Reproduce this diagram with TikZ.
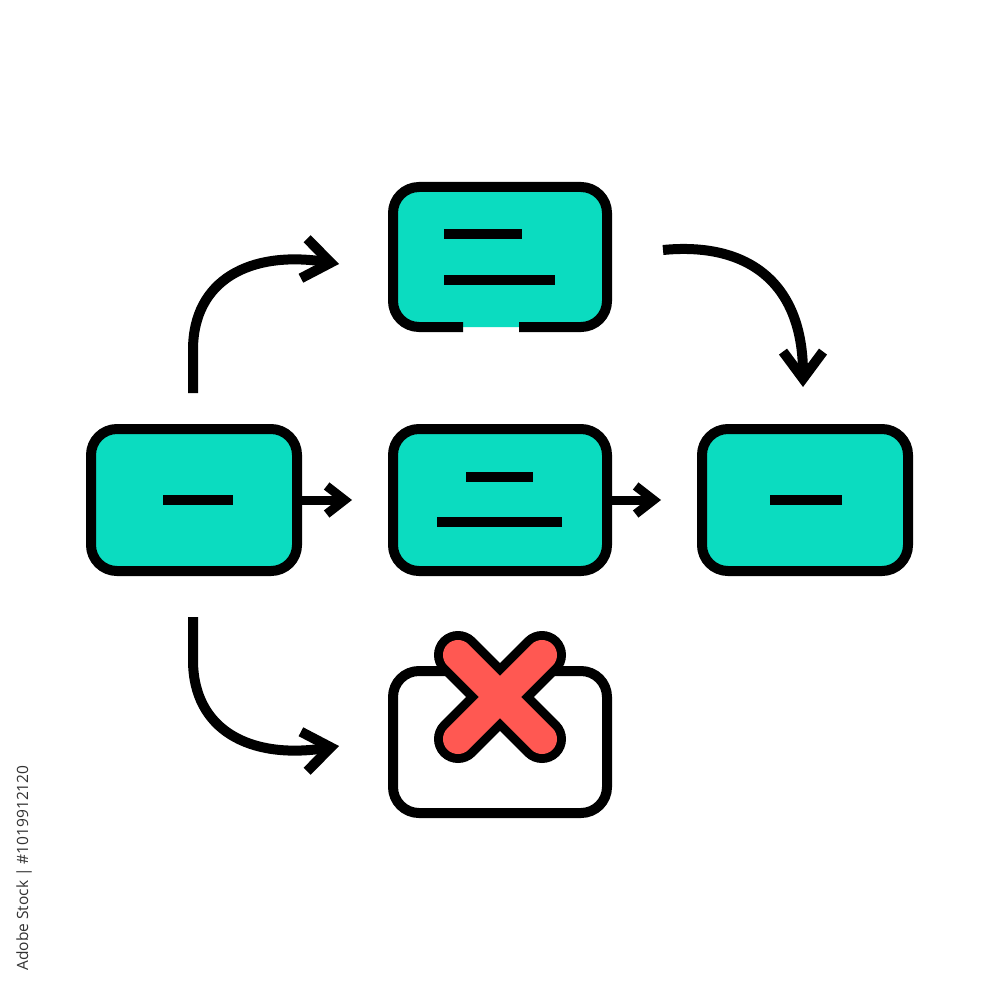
\documentclass[tikz,border=0pt]{standalone}
\usepackage{fontspec}
\newfontfamily\creditfont{Open Sans}
\usetikzlibrary{arrows.meta}
\definecolor{tealfill}{RGB}{11,220,192}
\definecolor{crossred}{RGB}{255,88,82}
\definecolor{creditgray}{RGB}{50,50,50}
\tikzset{
  box/.style={rectangle, rounded corners=26pt, inner sep=0pt, line width=10pt, minimum height=142pt},
  tealbox/.style={box, draw=black, fill=tealfill},
  bar/.style={line width=9.5pt},
  carrow/.style={line width=10pt, -{Straight Barb[length=27pt,width=40pt]}},
  harrow/.style={line width=9pt, -{Straight Barb[length=18pt,width=28pt]}, shorten >=36pt},
}
\begin{document}
\begin{tikzpicture}[x=1pt, y=-1pt]
\fill[white] (0,0) rectangle (1000,1000);
\useasboundingbox (0,0) rectangle (1000,1000);

% boxes
\node[box, fill=tealfill, minimum width=214pt, minimum height=140pt] (top) at (500,257) {};
\draw[line width=10pt, rounded corners=26pt] (463,327) -| (393,187) -| (607,327) -- (519,327);
\node[tealbox, minimum width=206pt] (left) at (194,500) {};
\node[tealbox, minimum width=214pt] (mid) at (500,500) {};
\node[tealbox, minimum width=206pt] (right) at (805,500) {};
\node[box, draw=black, fill=white, minimum width=214pt] (bot) at (500,742) {};

% bars inside boxes
\draw[bar] (444,234) -- (522,234);
\draw[bar] (444,280) -- (555,280);
\draw[bar] (163,500) -- (233,500);
\draw[bar] (466,477) -- (533,477);
\draw[bar] (437,522) -- (562,522);
\draw[bar] (770,500) -- (842,500);

% straight connectors
\draw[harrow] (left.east) -- (mid.west);
\draw[harrow] (mid.east) -- (right.west);

% curved connectors
\coordinate (s1) at (193,393);
\coordinate (e1) at (339,264);
\coordinate (s2) at (193,617);
\coordinate (e2) at (339,746);
\coordinate (s3) at (663,250);
\coordinate (e3) at (803,387);
\draw[carrow] (s1) -- (193,350) .. controls (193,280) and (250,250) .. (e1);
\draw[carrow] (s2) -- (193,660) .. controls (193,730) and (250,760) .. (e2);
\draw[carrow] (s3) .. controls (745,242) and (803,280) .. (e3);

% red cross
\draw[line width=48pt, line cap=round] (458,655) -- (542,739) (542,655) -- (458,739);
\draw[line width=30pt, line cap=round, crossred] (458,655) -- (542,739) (542,655) -- (458,739);

% credit
\node[rotate=90, text=creditgray, inner sep=0pt, font=\creditfont\fontsize{15.5}{15.5}\selectfont] (credit) at (24,868) {Adobe Stock | \#1019912120};
\end{tikzpicture}
\end{document}
